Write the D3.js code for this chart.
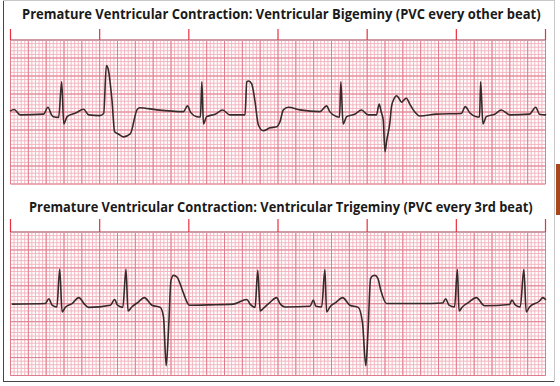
<!DOCTYPE html>
<html><head><meta charset="utf-8">
<script src="https://cdn.jsdelivr.net/npm/d3@7"></script>
<style>html,body{margin:0;padding:0;background:#fff;}svg{display:block;}</style>
</head><body>
<script>
// ---- data (time in seconds, amplitude in mV) ----
const titles = [
  "Premature Ventricular Contraction: Ventricular Bigeminy (PVC every other beat)",
  "Premature Ventricular Contraction: Ventricular Trigeminy (PVC every 3rd beat)"
];
const secondTicks = [0, 1, 2, 3, 4, 5, 6];

const bigeminyT = [0,0.04,0.11,0.37,0.42,0.46,0.48,0.54,0.574,0.597,0.635,0.73,0.82,0.877,1.0,
  1.045,1.075,1.094,1.138,1.168,1.21,1.268,1.343,1.418,1.447,1.64,1.94,1.985,2.02,2.09,2.13,2.146,2.164,2.2,2.295,2.38,2.46,2.63,
  2.65,2.67,2.705,2.74,2.78,2.835,2.91,2.985,3.022,3.06,3.115,3.246,3.47,3.545,3.58,3.66,3.69,3.705,3.73,3.77,3.86,3.937,4.01,4.105,
  4.134,4.158,4.18,4.2,4.22,4.254,4.273,4.3,4.33,4.354,4.385,4.41,4.44,4.478,4.534,4.59,4.776,5.056,5.1,5.15,5.224,5.26,5.273,5.298,5.336,5.43,5.504,5.6,5.82,5.89,5.933,6.0];
const bigeminyV = [0.03,0.07,-0.08,-0.06,0.13,-0.08,-0.13,-0.15,0.84,-0.33,-0.13,-0.03,0.075,-0.08,-0.1,
  -0.04,1.29,1.21,0.33,-0.55,-0.61,-0.69,-0.61,0.06,0.12,0.06,0.01,0.17,-0.01,-0.13,-0.14,0.84,-0.33,-0.13,-0.06,0.055,-0.08,-0.08,
  0.84,0.86,0.78,0.33,-0.36,-0.52,-0.44,-0.41,-0.27,0.06,0.13,0.06,0.01,0.17,0.01,-0.13,-0.14,0.84,-0.33,-0.13,-0.06,0.055,-0.08,-0.08,
  0.22,0,-0.22,-1.1,-0.78,-0.31,0.15,0.36,0.45,0.39,0.27,0.33,0.38,0.22,0,-0.11,-0.06,-0.04,0.15,-0.02,-0.13,-0.14,0.84,-0.33,-0.13,-0.06,0.055,-0.08,-0.06,0.13,-0.06,-0.08];

const trigeminyT = [0.02,0.39,0.43,0.467,0.52,0.552,0.579,0.616,0.694,0.765,0.84,0.877,1.12,1.168,1.2,1.26,1.295,1.318,1.36,1.43,1.5,1.586,1.68,
  1.716,1.746,1.772,1.8,1.828,1.87,1.9,1.936,2.007,2.24,2.5,2.65,2.687,2.743,2.773,2.8,2.836,2.91,2.985,3.022,3.078,3.358,3.396,3.425,3.49,3.526,3.545,3.582,3.65,3.724,3.806,3.9,
  3.948,3.985,4.01,4.038,4.064,4.086,4.12,4.153,4.217,4.59,4.847,4.88,4.918,4.98,5.012,5.03,5.067,5.138,5.224,5.317,5.597,5.623,5.664,5.717,5.757,5.784,5.821,5.93,5.97,6.0];
const trigeminyV = [-0.01,0.005,0.14,-0.04,-0.09,0.96,-0.23,-0.1,0.01,0.17,-0.04,-0.1,-0.04,0.12,-0.04,-0.1,0.96,-0.2,-0.09,0.04,0.17,-0.04,-0.1,
  -0.37,-1.73,-0.74,0.65,0.79,0.74,0.57,0.32,-0.04,-0.03,-0.01,0.12,-0.01,-0.1,0.93,-0.2,-0.13,0.04,0.17,0.005,-0.09,-0.07,0.1,-0.07,-0.09,0.95,-0.23,-0.09,0.04,0.17,-0.04,-0.1,
  -0.54,-1.73,-0.74,0.7,0.78,0.79,0.71,0.375,0.005,0.005,0.02,0.14,-0.04,-0.09,0.95,-0.2,-0.09,0.04,0.17,-0.055,-0.02,0.1,-0.04,-0.09,0.95,-0.23,-0.09,0.07,0.17,0.12];

const strips = [
  {title: titles[0], t: bigeminyT, v: bigeminyV, titleY: 19, tickTop: 29, top: 40, bottom: 184, titleX0: 22, titleX1: 541},
  {title: titles[1], t: trigeminyT, v: trigeminyV, titleY: 212, tickTop: 219, top: 232, bottom: 375.5, titleX0: 29, titleX1: 533}
];

// ---- drawing ----
const W = 560, H = 386;
const svg = d3.select("body").append("svg").attr("width", W).attr("height", H);

// frame
svg.append("line").attr("x1",3.5).attr("x2",3.5).attr("y1",0).attr("y2",382).attr("stroke","#444").attr("stroke-width",1);
svg.append("line").attr("x1",3).attr("x2",555).attr("y1",381.5).attr("y2",381.5).attr("stroke","#444").attr("stroke-width",1);
svg.append("line").attr("x1",554.5).attr("x2",554.5).attr("y1",0).attr("y2",382).attr("stroke","#c8c8c8").attr("stroke-width",1);
svg.append("line").attr("x1",3).attr("x2",555).attr("y1",0.5).attr("y2",0.5).attr("stroke","#c8c8c8").attr("stroke-width",1);
svg.append("rect").attr("x",556).attr("y",164).attr("width",4).attr("height",51).attr("fill","#a8471c");

const x = d3.scaleLinear().domain([0, 6]).range([10.5, 545.5]);

strips.forEach(s => {
  const y = d3.scaleLinear().domain([-2, 2]).range([s.bottom, s.top]);
  const g = svg.append("g");

  // small grid
  const smallT = d3.range(0, 6.0001, 0.04);
  const smallV = d3.range(-2, 2.0001, 0.1);
  g.append("g").selectAll("line").data(smallT).join("line")
    .attr("x1", d => x(d)).attr("x2", d => x(d)).attr("y1", s.top).attr("y2", s.bottom)
    .attr("stroke", "#f3b6c0").attr("stroke-width", 1);
  g.append("g").selectAll("line").data(smallV).join("line")
    .attr("y1", d => y(d)).attr("y2", d => y(d)).attr("x1", x(0)).attr("x2", x(6))
    .attr("stroke", "#f3b6c0").attr("stroke-width", 1);
  // major grid
  const majT = d3.range(0, 6.0001, 0.2);
  const majV = d3.range(-2, 2.0001, 0.5);
  g.append("g").selectAll("line").data(majT).join("line")
    .attr("x1", d => x(d)).attr("x2", d => x(d)).attr("y1", s.top).attr("y2", s.bottom)
    .attr("stroke", "#e07d8c").attr("stroke-width", 1);
  g.append("g").selectAll("line").data(majV).join("line")
    .attr("y1", d => y(d)).attr("y2", d => y(d)).attr("x1", x(0)).attr("x2", x(6))
    .attr("stroke", "#e07d8c").attr("stroke-width", 1);
  // top border of the strip
  g.append("line").attr("x1", x(0)).attr("x2", x(6)).attr("y1", s.top).attr("y2", s.top)
    .attr("stroke", "#cf9aa6").attr("stroke-width", 2);

  // second ticks
  g.append("g").selectAll("line").data(secondTicks).join("line")
    .attr("x1", d => x(d)).attr("x2", d => x(d)).attr("y1", s.tickTop).attr("y2", s.top)
    .attr("stroke", "#e8303e").attr("stroke-width", 1.2);

  // title: size the font so its natural width fits, then stretch vertically to the reference cap height
  const baseSize = 15;
  const tg = g.append("g");
  const txt = tg.append("text").text(s.title)
    .attr("x", 0).attr("y", 0)
    .attr("font-family", "'Open Sans', sans-serif").attr("font-weight", "bold")
    .style("font-variant-ligatures", "none")
    .attr("font-size", baseSize).attr("fill", "#1a1a1a");
  const natural = txt.node().getComputedTextLength();
  const target = s.titleX1 - s.titleX0;
  const fs = baseSize * target / natural;
  txt.attr("font-size", fs);
  tg.attr("transform", `translate(${s.titleX0},${s.titleY}) scale(1,${baseSize / fs})`);

  // ECG trace
  const pts = s.t.map((t, i) => [t, s.v[i]]);
  const line = d3.line().x(d => x(d[0])).y(d => y(d[1])).curve(d3.curveMonotoneX);
  g.append("path").datum(pts).attr("d", line)
    .attr("fill", "none").attr("stroke", "#382a2a").attr("stroke-width", 1.6)
    .attr("stroke-linejoin", "round").attr("stroke-linecap", "round");
});
</script>
</body></html>
